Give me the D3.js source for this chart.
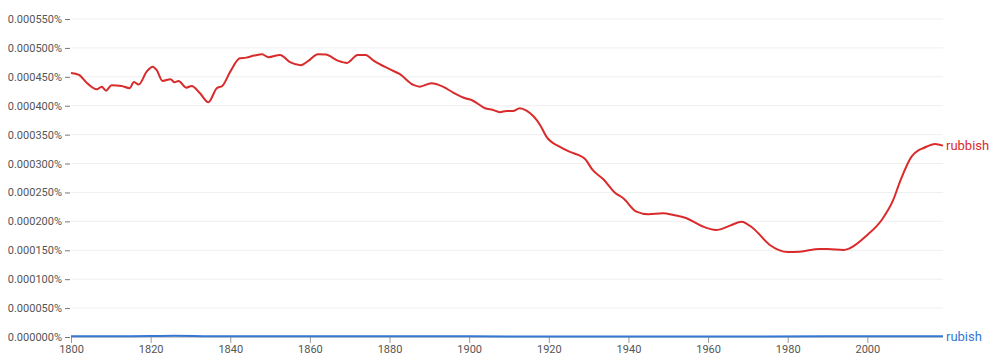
<!DOCTYPE html>
<html>
<head>
<meta charset="utf-8">
<script src="https://cdn.jsdelivr.net/npm/d3@7"></script>
<style>
  html, body { margin: 0; padding: 0; background: #fff; }
  svg { display: block; font-family: Roboto, "Noto Sans", sans-serif; }
</style>
</head>
<body>
<svg id="chart" width="1000" height="359"></svg>
<script>
// ---- data (values in percent) ----
const rubbishYears = [1800,1802,1804,1806.5,1807.7,1808.8,1810.2,1812.7,1814.7,1815.8,1817,1819,1820.5,1821.5,1823,1825,1826,1827,1829,1830.3,1832.4,1834.5,1836.6,1838,1840,1842.4,1844,1846,1848,1849.6,1852.5,1855,1857.7,1859.6,1862,1864,1867,1869.3,1872,1874,1876,1880,1882.6,1886,1887.6,1890.5,1893.4,1896,1899,1900.6,1904,1906,1907.7,1909.4,1911,1912.7,1914.4,1917.8,1919.4,1922.8,1925.3,1927.4,1929.1,1931,1933.7,1936.6,1938.7,1942,1945,1948.7,1951.3,1954.6,1958.4,1962,1965.5,1968.4,1971.3,1975.5,1980,1983,1988,1990,1994,1995.6,2000,2003.6,2006.5,2008.2,2011.1,2013,2014,2017,2019];
const rubbishValues = [0.0004567,0.0004533,0.0004394,0.0004285,0.0004330,0.0004261,0.0004355,0.0004343,0.0004303,0.0004412,0.0004365,0.0004590,0.0004676,0.0004619,0.0004429,0.0004459,0.0004406,0.0004429,0.0004313,0.0004343,0.0004216,0.0004061,0.0004303,0.0004343,0.0004590,0.0004822,0.0004832,0.0004867,0.0004891,0.0004839,0.0004879,0.0004753,0.0004701,0.0004775,0.0004891,0.0004884,0.0004780,0.0004740,0.0004879,0.0004879,0.0004780,0.0004632,0.0004545,0.0004360,0.0004330,0.0004389,0.0004330,0.0004227,0.0004130,0.0004100,0.0003957,0.0003927,0.0003888,0.0003910,0.0003910,0.0003957,0.0003915,0.0003668,0.0003465,0.0003287,0.0003201,0.0003149,0.0003080,0.0002889,0.0002728,0.0002497,0.0002400,0.0002168,0.0002123,0.0002140,0.0002111,0.0002054,0.0001920,0.0001851,0.0001926,0.0001995,0.0001881,0.0001592,0.0001471,0.0001476,0.0001522,0.0001522,0.0001505,0.0001535,0.0001765,0.0002024,0.0002370,0.0002687,0.0003119,0.0003235,0.0003265,0.0003339,0.0003310];
const rubishYears = [1800,1810,1820,1826,1835,1850,1870,1900,1930,1960,1990,2019];
const rubishValues = [0.0000012,0.0000014,0.0000016,0.0000022,0.0000015,0.0000013,0.0000012,0.0000011,0.0000010,0.0000010,0.0000011,0.0000012];
const yTicks = [0,0.00005,0.0001,0.00015,0.0002,0.00025,0.0003,0.00035,0.0004,0.00045,0.0005,0.00055];
const xTicks = [1800,1820,1840,1860,1880,1900,1920,1940,1960,1980,2000];
const seriesNames = ["rubbish","rubish"];
const seriesColors = ["#d92b2b","#3478d4"];

// ---- layout ----
const svg = d3.select("#chart");
const mLeft = 71, mRight = 943, mTop = 19, mBottom = 337;
const x = d3.scaleLinear().domain([1800, 2019]).range([mLeft, mRight]);
const y = d3.scaleLinear().domain([0, 0.00055]).range([mBottom, mTop]);

// gridlines
svg.append("g").selectAll("line").data(yTicks.slice(1)).join("line")
  .attr("x1", mLeft).attr("x2", mRight)
  .attr("y1", d => y(d)).attr("y2", d => y(d))
  .attr("stroke", "#efefef").attr("stroke-width", 1);

// y axis
const yAxis = svg.append("g").attr("transform", `translate(${mLeft},0)`)
  .call(d3.axisLeft(y).tickValues(yTicks).tickSize(6).tickPadding(3)
    .tickFormat(d => d3.format(".6f")(d) + "%"));
yAxis.select(".domain").remove();
yAxis.selectAll(".tick line").attr("stroke", "#777").attr("x2", -6).attr("x1", -1);
yAxis.selectAll(".tick text").attr("fill", "#555").style("font-size", "11px")
  .style("font-family", "Roboto, sans-serif");

// x axis
const xAxis = svg.append("g").attr("transform", `translate(0,${mBottom})`)
  .call(d3.axisBottom(x).tickValues(xTicks).tickSize(6).tickPadding(2)
    .tickFormat(d3.format("d")));
xAxis.select(".domain").attr("stroke", "#999").attr("d", `M${mLeft},0H${mRight}`);
xAxis.selectAll(".tick line").attr("stroke", "#999");
xAxis.selectAll(".tick text").attr("fill", "#555").style("font-size", "11px")
  .style("font-family", "Roboto, sans-serif");

// lines
const line = d3.line().x(d => x(d[0])).y(d => y(d[1])).curve(d3.curveMonotoneX);
const series = [
  { name: seriesNames[0], color: seriesColors[0], pts: rubbishYears.map((yr, i) => [yr, rubbishValues[i]]) },
  { name: seriesNames[1], color: seriesColors[1], pts: rubishYears.map((yr, i) => [yr, rubishValues[i]]) }
];
series.forEach(s => {
  svg.append("path").datum(s.pts)
    .attr("d", line).attr("fill", "none")
    .attr("stroke", s.color).attr("stroke-width", 2)
    .attr("stroke-linejoin", "round");
  const last = s.pts[s.pts.length - 1];
  svg.append("text")
    .attr("x", x(last[0]) + 3).attr("y", y(last[1]))
    .attr("dy", "0.35em")
    .attr("fill", s.color)
    .style("font-size", "13px")
    .style("font-family", "Roboto, sans-serif")
    .text(s.name);
});
</script>
</body>
</html>
